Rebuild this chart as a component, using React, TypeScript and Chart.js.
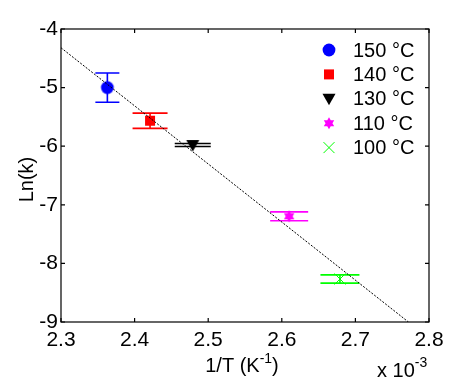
import React, { useEffect, useRef } from 'react';
import { Chart, registerables } from 'chart.js';
Chart.register(...registerables);

// ---- data ----
const seriesLabels = ['150 °C', '140 °C', '130 °C', '110 °C', '100 °C'];
const invT = [2.363, 2.421, 2.479, 2.61, 2.679];
const lnK = [-5.0, -5.565, -5.98, -7.196, -8.266];
const lnKErr = [0.25, 0.13, 0.025, 0.075, 0.07];
const fitX = [2.3, 2.772];
const fitY = [-4.32, -9.0];
const xTickValues = [2.3, 2.4, 2.5, 2.6, 2.7, 2.8];
const yTickValues = [-9, -8, -7, -6, -5, -4];

// ---- styles ----
const colors = ['#0000ff', '#ff0000', '#000000', '#ff00ff', '#00ff00'];
const markers = ['circle', 'rect', 'triDown', 'hexagram', 'x'];
const capHalfPx = [12, 17.5, 18, 19, 19.5];
const FONT = "'Liberation Sans', Arial, Helvetica, sans-serif";

function drawMarker(ctx: CanvasRenderingContext2D, kind: string, x: number, y: number, color: string) {
  ctx.save();
  ctx.fillStyle = color;
  ctx.strokeStyle = color;
  ctx.lineWidth = 1;
  ctx.beginPath();
  if (kind === 'circle') {
    ctx.arc(x, y, 6.4, 0, Math.PI * 2);
    ctx.fill();
  } else if (kind === 'rect') {
    ctx.rect(x - 5, y - 5, 10, 10);
    ctx.fill();
  } else if (kind === 'triDown') {
    ctx.moveTo(x - 6.5, y - 5);
    ctx.lineTo(x + 6.5, y - 5);
    ctx.lineTo(x, y + 6.5);
    ctx.closePath();
    ctx.fill();
  } else if (kind === 'hexagram') {
    const r = 6;
    for (let t = 0; t < 2; t++) {
      for (let i = 0; i < 3; i++) {
        const a = -Math.PI / 2 + t * Math.PI + (i * 2 * Math.PI) / 3;
        const px = x + r * Math.cos(a);
        const py = y + r * Math.sin(a);
        if (i === 0) ctx.moveTo(px, py);
        else ctx.lineTo(px, py);
      }
      ctx.closePath();
    }
    ctx.fill();
  } else if (kind === 'x') {
    ctx.moveTo(x - 5.5, y - 5.5);
    ctx.lineTo(x + 5.5, y + 5.5);
    ctx.moveTo(x + 5.5, y - 5.5);
    ctx.lineTo(x - 5.5, y + 5.5);
    ctx.stroke();
  }
  ctx.restore();
}

function markerCanvas(kind: string, color: string): HTMLCanvasElement {
  const c = document.createElement('canvas');
  c.width = 16;
  c.height = 16;
  const ctx = c.getContext('2d')!;
  drawMarker(ctx, kind, 8, 8, color);
  return c;
}

const decorPlugin = {
  id: 'decor',
  beforeDatasetsDraw(chart: any) {
    const ctx = chart.ctx as CanvasRenderingContext2D;
    const xs = chart.scales.x;
    const ys = chart.scales.y;
    ctx.save();
    ctx.lineWidth = 1.6;
    for (let i = 0; i < invT.length; i++) {
      const px = xs.getPixelForValue(invT[i]);
      const pTop = ys.getPixelForValue(lnK[i] + lnKErr[i]);
      const pBot = ys.getPixelForValue(lnK[i] - lnKErr[i]);
      const w = capHalfPx[i];
      ctx.strokeStyle = colors[i];
      ctx.beginPath();
      ctx.moveTo(px, pTop);
      ctx.lineTo(px, pBot);
      ctx.moveTo(px - w, pTop);
      ctx.lineTo(px + w, pTop);
      ctx.moveTo(px - w, pBot);
      ctx.lineTo(px + w, pBot);
      ctx.stroke();
    }
    ctx.restore();
  },
  afterDraw(chart: any) {
    const ctx = chart.ctx as CanvasRenderingContext2D;
    const a = chart.chartArea;
    const xs = chart.scales.x;
    const ys = chart.scales.y;
    ctx.save();
    // box
    ctx.strokeStyle = '#000';
    ctx.lineWidth = 1.2;
    ctx.strokeRect(a.left, a.top, a.right - a.left, a.bottom - a.top);
    // inward ticks
    const tl = 4;
    ctx.beginPath();
    xTickValues.forEach((v) => {
      const p = xs.getPixelForValue(v);
      ctx.moveTo(p, a.bottom);
      ctx.lineTo(p, a.bottom - tl);
      ctx.moveTo(p, a.top);
      ctx.lineTo(p, a.top + tl);
    });
    yTickValues.forEach((v) => {
      const p = ys.getPixelForValue(v);
      ctx.moveTo(a.left, p);
      ctx.lineTo(a.left + tl, p);
      ctx.moveTo(a.right, p);
      ctx.lineTo(a.right - tl, p);
    });
    ctx.stroke();

    // legend
    const lx = 329;
    const tx = 353;
    const ly0 = 50;
    const dy = 24.4;
    ctx.fillStyle = '#000';
    ctx.font = `20px ${FONT}`;
    ctx.textBaseline = 'middle';
    ctx.textAlign = 'left';
    seriesLabels.forEach((lab, i) => {
      const y = ly0 + i * dy;
      drawMarker(ctx, markers[i], lx, y, colors[i]);
      ctx.fillStyle = '#000';
      ctx.fillText(lab, tx, y + 1);
    });

    // y title
    ctx.save();
    ctx.translate(33, (a.top + a.bottom) / 2 + 4);
    ctx.rotate(-Math.PI / 2);
    ctx.textAlign = 'center';
    ctx.textBaseline = 'alphabetic';
    ctx.font = `20px ${FONT}`;
    ctx.fillText('Ln(k)', 0, 0);
    ctx.restore();

    // x title with superscript
    ctx.textBaseline = 'alphabetic';
    ctx.textAlign = 'left';
    const base = 20;
    const sup = 14;
    const parts: [string, boolean][] = [['1/T (K', false], ['-1', true], [')', false]];
    const widths = parts.map(([t, s]) => {
      ctx.font = `${s ? sup : base}px ${FONT}`;
      return ctx.measureText(t).width;
    });
    const total = widths.reduce((s, w) => s + w, 0);
    let cx = 242 - total / 2;
    const by = 372;
    parts.forEach(([t, s], i) => {
      ctx.font = `${s ? sup : base}px ${FONT}`;
      ctx.fillText(t, cx, s ? by - 9 : by);
      cx += widths[i];
    });

    // multiplier
    ctx.font = `20px ${FONT}`;
    ctx.fillText('x 10', 377, 377);
    const w10 = ctx.measureText('x 10').width;
    ctx.font = `14px ${FONT}`;
    ctx.fillText('-3', 377 + w10, 367);

    ctx.restore();
  },
};

export default function App() {
  const ref = useRef<HTMLCanvasElement | null>(null);
  useEffect(() => {
    if (!ref.current) return;
    const datasets: any[] = [
      {
        type: 'line',
        label: 'fit',
        data: fitX.map((x, i) => ({ x, y: fitY[i] })),
        borderColor: '#000',
        borderWidth: 1,
        borderDash: [2, 1.5],
        pointRadius: 0,
        fill: false,
        order: 0,
      },
      ...seriesLabels.map((lab, i) => ({
        type: 'scatter',
        label: lab,
        data: [{ x: invT[i], y: lnK[i] }],
        pointStyle: markerCanvas(markers[i], colors[i]),
        pointRadius: 8,
        backgroundColor: colors[i],
        borderColor: colors[i],
        order: 1,
      })),
    ];
    const chart = new Chart(ref.current, {
      type: 'scatter',
      data: { datasets },
      plugins: [decorPlugin],
      options: {
        animation: false,
        responsive: false,
        layout: { padding: { left: 0, top: 29, right: 45, bottom: 0 } },
        plugins: { legend: { display: false }, tooltip: { enabled: false }, title: { display: false } },
        scales: {
          x: {
            type: 'linear',
            min: 2.3,
            max: 2.8,
            grid: { display: false, drawTicks: false },
            border: { display: false },
            afterBuildTicks: (s: any) => {
              s.ticks = xTickValues.map((v) => ({ value: v }));
            },
            afterFit: (s: any) => {
              s.height = 57;
            },
            ticks: {
              color: '#000',
              padding: 6,
              maxRotation: 0,
              autoSkip: false,
              font: { family: FONT, size: 21 },
              callback: (v: any) => Number(v).toFixed(1),
            },
          },
          y: {
            type: 'linear',
            min: -9,
            max: -4,
            grid: { display: false, drawTicks: false },
            border: { display: false },
            afterBuildTicks: (s: any) => {
              s.ticks = yTickValues.map((v) => ({ value: v }));
            },
            afterFit: (s: any) => {
              s.width = 61;
            },
            ticks: {
              color: '#000',
              padding: 3,
              autoSkip: false,
              font: { family: FONT, size: 21 },
              callback: (v: any) => String(v),
            },
          },
        },
      },
    });
    return () => chart.destroy();
  }, []);
  return (
    <div style={{ position: 'fixed', left: 0, top: 0, width: 474, height: 379, background: '#fff' }}>
      <canvas ref={ref} width={474} height={379} style={{ display: 'block', width: 474, height: 379 }} />
    </div>
  );
}
